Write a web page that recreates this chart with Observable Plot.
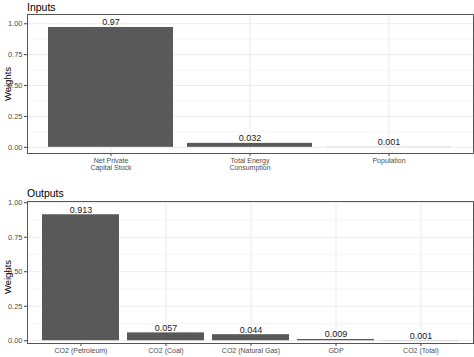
<!DOCTYPE html>
<html><head><meta charset="utf-8">
<script src="https://cdn.jsdelivr.net/npm/d3@7"></script>
<script src="https://cdn.jsdelivr.net/npm/@observablehq/plot@0.6"></script>
<style>
body{margin:0;background:#fff;font-family:"Liberation Sans",Arial,sans-serif;}
#wrap{position:relative;width:474px;height:357px;overflow:hidden;}
.ttl{position:absolute;left:27px;font-size:10.5px;color:#000;line-height:1;}
.pl{position:absolute;left:0;}
</style></head>
<body><div id="wrap">
<div class="pl" id="p1" style="top:0px"></div>
<div class="pl" id="p2" style="top:184px"></div>
<div class="ttl" style="top:2px">Inputs</div>
<div class="ttl" style="top:188px">Outputs</div>
</div>
<script>
const inputCategories = ["Net Private\nCapital Stock", "Total Energy\nConsumption", "Population"];
const inputWeights = [0.97, 0.032, 0.001];
const inputLabels = ["0.97", "0.032", "0.001"];
const outputCategories = ["CO2 (Petroleum)", "CO2 (Coal)", "CO2 (Natural Gas)", "GDP", "CO2 (Total)"];
const outputWeights = [0.913, 0.057, 0.044, 0.009, 0.001];
const outputLabels = ["0.913", "0.057", "0.044", "0.009", "0.001"];
const majorTicks = [0, 0.25, 0.5, 0.75, 1];
const minorTicks = [0.125, 0.375, 0.625, 0.875];

function panel(cats, vals, labs, opts) {
  const data = cats.map((c, i) => ({cat: c, w: vals[i], lab: labs[i]}));
  return Plot.plot({
    width: 474, height: opts.height,
    marginTop: opts.mt, marginBottom: opts.mb, marginLeft: 27, marginRight: 1,
    style: {fontFamily: "Liberation Sans, Arial, sans-serif", background: "transparent", overflow: "visible"},
    x: {domain: cats, paddingInner: 0.1, paddingOuter: 0.15, label: null},
    y: {domain: opts.ydom, label: null},
    marks: [
      Plot.ruleY(minorTicks, {stroke: "#ebebeb", strokeWidth: 0.5}),
      Plot.ruleY(majorTicks, {stroke: "#ebebeb", strokeWidth: 1}),
      Plot.gridX({stroke: "#ebebeb", strokeOpacity: 1, strokeWidth: 1}),
      Plot.barY(data, {x: "cat", y: "w", fill: "#595959"}),
      Plot.text(data, {x: "cat", y: "w", text: "lab", dy: -2, lineAnchor: "bottom", fontSize: 9, fill: "#1a1a1a"}),
      Plot.axisY(majorTicks, {tickFormat: d => d.toFixed(2), tickSize: 3, tickPadding: 2, fontSize: 7.5, color: "#4d4d4d", stroke: "#444", label: null}),
      Plot.axisX({tickSize: 3, tickPadding: opts.tp, fontSize: 7, lineHeight: 0.95, fill: "#4d4d4d", stroke: "#444", label: null}),
      Plot.frame({stroke: "#555", strokeWidth: 1})
    ]
  });
}

const p1 = panel(inputCategories, inputWeights, inputLabels, {height: 180, mt: 14, mb: 27, tp: 2, ydom: [-0.05, 1.075]});
document.getElementById("p1").append(p1);
const p2 = panel(outputCategories, outputWeights, outputLabels, {height: 173, mt: 17, mb: 14, tp: 1.5, ydom: [-0.02, 1.009]});
document.getElementById("p2").append(p2);

// axis titles
function addYTitle(svg, cy) {
  const t = document.createElementNS("http://www.w3.org/2000/svg", "text");
  t.setAttribute("transform", `translate(11,${cy}) rotate(-90)`);
  t.setAttribute("text-anchor", "middle");
  t.setAttribute("font-size", "9.5");
  t.setAttribute("fill", "#000");
  t.textContent = "Weights";
  svg.append(t);
}
addYTitle(p1, 84);
addYTitle(p2, 93);
</script>
</body></html>
